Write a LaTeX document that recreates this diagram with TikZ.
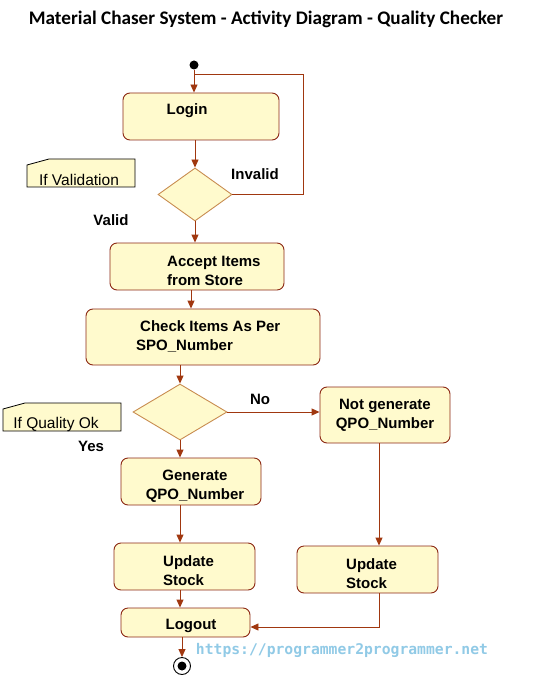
\documentclass[tikz,border=0pt]{standalone}
\usepackage{fontspec}
\setmainfont{Liberation Sans}
\newfontfamily\titlefont{Carlito}
\newfontfamily\urlfont{DejaVu Sans Mono Bold}
\usetikzlibrary{shapes.geometric,arrows.meta}
\definecolor{boxfill}{RGB}{255,250,205}
\definecolor{boxline}{RGB}{140,40,20}
\definecolor{arrline}{RGB}{160,55,15}
\definecolor{diaLine}{RGB}{200,140,80}
\definecolor{urlcol}{RGB}{145,202,230}
\tikzset{
  actbox/.style={draw=boxline, fill=boxfill, rounded corners=7pt, line width=0.9pt, inner sep=0pt},
  decis/.style={diamond, draw=diaLine, fill=boxfill, line width=0.9pt, inner sep=0pt},
  lbl/.style={font=\bfseries\fontsize{15}{19}\selectfont, inner sep=0pt},
  notetxt/.style={font=\fontsize{15.5}{18}\selectfont, inner sep=0pt},
  notebox/.style={draw=black, fill=boxfill, line width=0.8pt},
  flow/.style={draw=arrline, line width=0.9pt},
  arr/.style={flow, -{Triangle[length=8pt,width=7pt]}}
}
\begin{document}
\begin{tikzpicture}[x=1pt,y=-1pt]
\useasboundingbox (0,0) rectangle (534,676);
% title
\node[font=\titlefont\bfseries\fontsize{19.2}{22}\selectfont, inner sep=0pt] (title) at (266,19) {Material Chaser System - Activity Diagram - Quality Checker};
% start
\node[circle, fill=black, minimum size=9pt, inner sep=0pt] (init) at (194,65) {};
% boxes
\node[actbox, minimum width=156pt, minimum height=47pt] (login) at (201,116.5) {};
\node[decis, minimum width=74pt, minimum height=53pt] (dia1) at (195,194.5) {};
\node[actbox, minimum width=174pt, minimum height=47pt] (accept) at (197,266.5) {};
\node[actbox, minimum width=234pt, minimum height=56pt] (check) at (203,337) {};
\node[decis, minimum width=94pt, minimum height=56pt] (dia2) at (180,412) {};
\node[actbox, minimum width=130pt, minimum height=56pt] (notgen) at (385,415) {};
\node[actbox, minimum width=140pt, minimum height=47pt] (gen) at (191,481.5) {};
\node[actbox, minimum width=141pt, minimum height=47pt] (upd1) at (184.5,566.5) {};
\node[actbox, minimum width=141pt, minimum height=47pt] (upd2) at (367.5,569.5) {};
\node[actbox, minimum width=129pt, minimum height=29pt] (logout) at (185.5,622.5) {};
% end
\node[circle, draw=black, fill=white, line width=0.9pt, minimum size=17pt, inner sep=0pt] (final) at (182,666) {};
\node[circle, fill=black, minimum size=9pt, inner sep=0pt] (finalin) at (final) {};
% box texts
\node[lbl] (tlogin) at (187,111) {Login};
\node[lbl, align=left, anchor=west] (taccept) at (167,270.5) {Accept Items\\from Store};
\node[lbl, align=left, anchor=west] (tcheck) at (136,336.5) {\hspace{4pt}Check Items As Per\\SPO\_Number};
\node[lbl, align=center] (tnotgen) at (385,415) {Not generate\\QPO\_Number};
\node[lbl, align=center] (tgen) at (195,486.5) {Generate\\QPO\_Number};
\node[lbl, align=left, anchor=west] (tupd1) at (163,570.5) {Update\\Stock};
\node[lbl, align=left, anchor=west] (tupd2) at (346,573.5) {Update\\Stock};
\node[lbl] (tlogout) at (191,626) {Logout};
% guard labels
\node[lbl] (invalid) at (255,174) {Invalid};
\node[lbl] (valid) at (111,220) {Valid};
\node[lbl] (no) at (260,399) {No};
\node[lbl] (yes) at (91,446) {Yes};
% notes
\path[notebox] (27,165) -- (49,159) -- (135,159) -- (135,187) -- (27,187) -- cycle;
\node[notetxt] (nval) at (79,180) {If Validation};
\path[notebox] (3,409) -- (25,403) -- (121,403) -- (121,431) -- (3,431) -- cycle;
\node[notetxt] (nqual) at (56,424) {If Quality Ok};
% url
\node[font=\urlfont\fontsize{14.7}{17}\selectfont, text=urlcol, inner sep=0pt] (url) at (342,650) {https://programmer2programmer.net};
% connectors
\coordinate (loopc) at (303,74);
\draw[flow] (dia1.east) -| (loopc) -- (loopc -| init);
\draw[arr] (init) -- (login.north -| init);
\draw[arr] (login.south -| dia1) -- (dia1.north);
\draw[arr] (dia1.south) -- (accept.north -| dia1);
\draw[arr] ([xshift=-6pt]accept.south) -- ([xshift=-6pt]accept.south |- check.north);
\draw[arr] (check.south -| dia2) -- (dia2.north);
\draw[arr] (dia2.east) -- (dia2.east -| notgen.west);
\draw[arr] (dia2.south) -- (gen.north -| dia2);
\draw[arr] (gen.south -| dia2) -- (upd1.north -| dia2);
\draw[arr] (upd1.south -| dia2) -- (logout.north -| dia2);
\draw[arr] (logout.south -| final) -- (final.north);
\draw[arr] ([xshift=-6pt]notgen.south) -- ([xshift=-6pt]notgen.south |- upd2.north);
\draw[arr] ([xshift=11.5pt]upd2.south) |- ([yshift=-4.5pt]logout.east);
\end{tikzpicture}
\end{document}
